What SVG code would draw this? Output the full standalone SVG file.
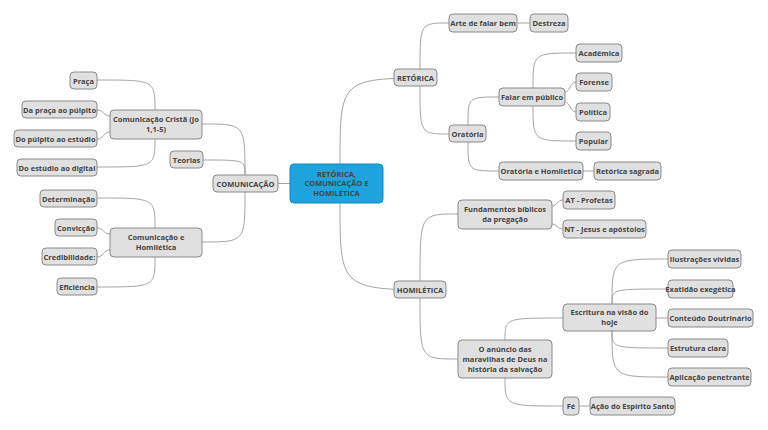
<svg xmlns="http://www.w3.org/2000/svg" width="768" height="430" viewBox="0 0 768 430">
<style>
.n rect{fill:#e0e0e0;stroke:#8a8a8a;stroke-width:1}
.n text,.c text{font-family:"Open Sans","Noto Sans",sans-serif;font-size:7.5px;font-weight:bold;fill:#444;text-anchor:middle}
.c rect{fill:#1fa3df;stroke:#1685b8;stroke-width:1}
#edges path{fill:none;stroke:#9a9a9a;stroke-width:0.9}
</style>
<rect width="768" height="430" fill="#fff"/>
<g id="edges">
<path d="M278 183.5H290"/>
<path d="M340 164C340 78 340 78 437 78"/>
<path d="M340 203C340 290 340 290 446 290"/>
<path d="M245 175C245 124 245 124 202 124"/>
<path d="M245 175C245 160 245 160 203 160"/>
<path d="M245 192C245 242 245 242 202 242"/>
<path d="M155 110C155 80 155 80 97 80"/>
<path d="M110 116C103 116 104 110 97 110"/>
<path d="M110 132C103 132 104 139 97 139"/>
<path d="M155 139C155 167 155 167 97 167"/>
<path d="M155 228C155 198 155 198 97 198"/>
<path d="M110 234C103 234 104 228 97 228"/>
<path d="M110 250C103 250 104 257 97 257"/>
<path d="M155 257C155 287 155 287 97 287"/>
<path d="M420 69C420 23 420 23 449 23"/>
<path d="M420 86C420 134 420 134 449 134"/>
<path d="M517 23H530"/>
<path d="M468 125C468 97 468 97 499 97"/>
<path d="M468 142C468 171 468 171 499 171"/>
<path d="M583 171H594"/>
<path d="M533 88C533 53 533 53 576 53"/>
<path d="M565 92C570 92 570 82 576 82"/>
<path d="M565 102C570 102 570 112 576 112"/>
<path d="M533 105C533 141 533 141 576 141"/>
<path d="M420 281C420 214 420 214 458 214"/>
<path d="M420 298C420 359 420 359 458 359"/>
<path d="M552 206C557 206 557 200 563 200"/>
<path d="M552 224C557 224 557 229 563 229"/>
<path d="M505 340C505 318 505 318 563 318"/>
<path d="M505 378C505 406 505 406 563 406"/>
<path d="M579 406H590"/>
<path d="M612 304C612 259 612 259 668 259"/>
<path d="M612 304C612 289 612 289 668 289"/>
<path d="M656 318H668"/>
<path d="M612 331C612 348 612 348 668 348"/>
<path d="M612 331C612 377 612 377 668 377"/>
</g>
<g id="central" class="c"><rect x="290" y="164" width="93" height="39" rx="4"/><text x="336.5" y="176.5">RETÓRICA,</text><text x="336.5" y="186">COMUNICAÇÃO E</text><text x="336.5" y="195.5">HOMILÉTICA</text></g>
<g id="comunicacao" class="n"><rect x="213" y="175" width="65" height="17" rx="4"/><text x="245.5" y="186.5">COMUNICAÇÃO</text></g>
<g id="crista" class="n"><rect x="110" y="110" width="92" height="29" rx="4"/><text x="156" y="121.5">Comunicação Cristã (Jo</text><text x="156" y="132">1,1-5)</text></g>
<g id="teorias" class="n"><rect x="170" y="151" width="33" height="17" rx="4"/><text x="186.5" y="162.5">Teorias</text></g>
<g id="praca" class="n"><rect x="70" y="72" width="27" height="17" rx="4"/><text x="83.5" y="83.5">Praça</text></g>
<g id="dapraca" class="n"><rect x="22" y="101" width="75" height="17" rx="4"/><text x="59.5" y="112.5">Da praça ao púlpito</text></g>
<g id="dopulpito" class="n"><rect x="14" y="130" width="83" height="17" rx="4"/><text x="55.5" y="141.5">Do púlpito ao estúdio</text></g>
<g id="doestudio" class="n"><rect x="17" y="159" width="80" height="17" rx="4"/><text x="57" y="170.5">Do estúdio ao digital</text></g>
<g id="comhom" class="n"><rect x="110" y="228" width="92" height="29" rx="4"/><text x="156" y="239.5">Comunicação e</text><text x="156" y="250">Homilética</text></g>
<g id="determinacao" class="n"><rect x="40" y="190" width="57" height="17" rx="4"/><text x="68.5" y="201.5">Determinação</text></g>
<g id="conviccao" class="n"><rect x="55" y="219" width="42" height="17" rx="4"/><text x="76" y="230.5">Convicção</text></g>
<g id="credibilidade" class="n"><rect x="42" y="248" width="55" height="17" rx="4"/><text x="69.5" y="259.5">Credibilidade:</text></g>
<g id="eficiencia" class="n"><rect x="57" y="278" width="40" height="17" rx="4"/><text x="77" y="289.5">Eficiência</text></g>
<g id="retorica" class="n"><rect x="394" y="69" width="43" height="17" rx="4"/><text x="415.5" y="80.5">RETÓRICA</text></g>
<g id="arte" class="n"><rect x="449" y="14" width="68" height="18" rx="4"/><text x="483" y="26">Arte de falar bem</text></g>
<g id="destreza" class="n"><rect x="530" y="14" width="38" height="18" rx="4"/><text x="549" y="26">Destreza</text></g>
<g id="oratoria" class="n"><rect x="449" y="125" width="37" height="17" rx="4"/><text x="467.5" y="136.5">Oratória</text></g>
<g id="falar" class="n"><rect x="499" y="88" width="66" height="18" rx="4"/><text x="532" y="100">Falar em público</text></g>
<g id="academica" class="n"><rect x="576" y="44" width="46" height="18" rx="4"/><text x="599" y="56">Acadêmica</text></g>
<g id="forense" class="n"><rect x="576" y="73" width="36" height="18" rx="4"/><text x="594" y="85">Forense</text></g>
<g id="politica" class="n"><rect x="576" y="103" width="34" height="18" rx="4"/><text x="593" y="115">Política</text></g>
<g id="popular" class="n"><rect x="576" y="132" width="35" height="18" rx="4"/><text x="593.5" y="144">Popular</text></g>
<g id="orahom" class="n"><rect x="499" y="162" width="84" height="18" rx="4"/><text x="541" y="174">Oratória e Homiletica</text></g>
<g id="sagrada" class="n"><rect x="594" y="162" width="67" height="18" rx="4"/><text x="627.5" y="174">Retórica sagrada</text></g>
<g id="homiletica" class="n"><rect x="394" y="281" width="52" height="17" rx="4"/><text x="420" y="292.5">HOMILÉTICA</text></g>
<g id="fundamentos" class="n"><rect x="458" y="200" width="94" height="29" rx="4"/><text x="505" y="211.5">Fundamentos bíblicos</text><text x="505" y="222">da pregação</text></g>
<g id="at" class="n"><rect x="563" y="191" width="52" height="18" rx="4"/><text x="589" y="203">AT - Profetas</text></g>
<g id="nt" class="n"><rect x="563" y="220" width="83" height="18" rx="4"/><text x="604.5" y="232">NT - Jesus e apóstolos</text></g>
<g id="anuncio" class="n"><rect x="458" y="340" width="94" height="38" rx="4"/><text x="505" y="351.5">O anúncio das</text><text x="505" y="361.5">maravilhas de Deus na</text><text x="505" y="371.5">história da salvação</text></g>
<g id="escritura" class="n"><rect x="563" y="304" width="93" height="27" rx="4"/><text x="609.5" y="315">Escritura na visão do</text><text x="609.5" y="325">hoje</text></g>
<g id="ilustracoes" class="n"><rect x="668" y="250" width="73" height="18" rx="4"/><text x="704.5" y="262">Ilustrações vívidas</text></g>
<g id="exatidao" class="n"><rect x="668" y="280" width="65" height="18" rx="4"/><text x="700.5" y="292">Exatidão exegética</text></g>
<g id="conteudo" class="n"><rect x="668" y="309" width="85" height="18" rx="4"/><text x="710.5" y="321">Conteúdo Doutrinário</text></g>
<g id="estrutura" class="n"><rect x="668" y="339" width="60" height="18" rx="4"/><text x="698" y="351">Estrutura clara</text></g>
<g id="aplicacao" class="n"><rect x="668" y="368" width="83" height="18" rx="4"/><text x="709.5" y="380">Aplicação penetrante</text></g>
<g id="fe" class="n"><rect x="563" y="397" width="16" height="18" rx="4"/><text x="571" y="409">Fé</text></g>
<g id="acao" class="n"><rect x="590" y="397" width="85" height="18" rx="4"/><text x="632.5" y="409">Ação do Espírito Santo</text></g>
</svg>
